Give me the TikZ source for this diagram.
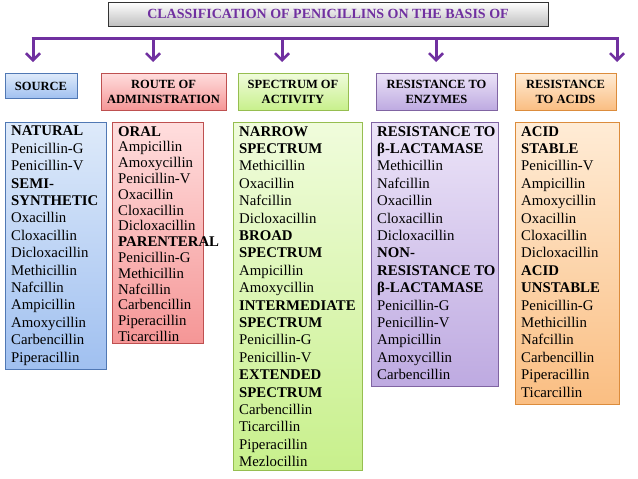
\documentclass[tikz,border=0pt]{standalone}
\usepackage{fontspec}
\setmainfont{Liberation Serif}
\usetikzlibrary{arrows.meta}
\definecolor{pur}{RGB}{112,48,160}
\definecolor{bB}{RGB}{80,120,180}\definecolor{bT}{RGB}{222,234,250}\definecolor{bD}{RGB}{160,192,240}
\definecolor{rB}{RGB}{190,80,80}\definecolor{rT}{RGB}{255,222,222}\definecolor{rD}{RGB}{245,150,150}
\definecolor{gB}{RGB}{150,190,80}\definecolor{gT}{RGB}{240,252,220}\definecolor{gD}{RGB}{200,240,140}
\definecolor{vB}{RGB}{128,100,162}\definecolor{vT}{RGB}{236,228,248}\definecolor{vD}{RGB}{190,170,225}
\definecolor{oB}{RGB}{220,140,60}\definecolor{oT}{RGB}{255,236,214}\definecolor{oD}{RGB}{250,190,130}
\tikzset{
 bx/.style 2 args={draw=#1B, top color=#1T, bottom color=#1D, line width=0.8pt},
 hd/.style={font=\fontsize{12.5}{15}\selectfont\bfseries, align=center},
 ct/.style={anchor=north west, align=left, inner sep=0pt, font=\fontsize{14.8}{17.4}\selectfont},
 ctr/.style={ct, font=\fontsize{14.8}{15.8}\selectfont},
 arr/.style={draw=pur, line width=3pt, -{Straight Barb[length=7pt,width=14pt,line width=2.5pt]}}
}
\begin{document}
\begin{tikzpicture}[x=1pt,y=-1pt]
\useasboundingbox (0,0) rectangle (638,479);
% title
\node[draw=black!80, line width=1pt, top color=white, bottom color=black!25, minimum width=440pt, minimum height=24pt, text=pur, font=\fontsize{14}{16}\selectfont\bfseries] (title) at (328,14) {CLASSIFICATION OF PENICILLINS ON THE BASIS OF};
\draw[draw=pur, line width=3pt] (31.5,38) -- (618.5,38);
\foreach \x/\n in {33/a1,153/a2,282/a3,436/a4,617/a5}{
 \coordinate (\n) at (\x,38); \coordinate (\n e) at (\x,62);
 \draw[arr] (\n) -- (\n e);}
% headers
\node[bx={b}{}, hd, minimum width=72pt, minimum height=25pt] (h1) at (41,86) {SOURCE};
\node[bx={r}{}, hd, minimum width=125pt, minimum height=37pt] (h2) at (163.5,91.5) {ROUTE OF\\ADMINISTRATION};
\node[bx={g}{}, hd, minimum width=110pt, minimum height=37pt] (h3) at (293,91.5) {SPECTRUM OF\\ACTIVITY};
\node[bx={v}{}, hd, minimum width=121pt, minimum height=37pt] (h4) at (436.5,91.5) {RESISTANCE TO\\ENZYMES};
\node[bx={o}{}, hd, minimum width=101pt, minimum height=37pt] (h5) at (565.5,91.5) {RESISTANCE\\TO ACIDS};
% content boxes
\draw[bx={b}{}] (5,122) rectangle (106,369);
\draw[bx={r}{}] (112,122) rectangle (203,343);
\draw[bx={g}{}] (233,122) rectangle (362,470);
\draw[bx={v}{}] (371,122) rectangle (498,386);
\draw[bx={o}{}] (515,122) rectangle (619,404);
\node[ct] (c1) at (11,126) {\textbf{NATURAL}\\Penicillin-G\\Penicillin-V\\\textbf{SEMI-}\\\textbf{SYNTHETIC}\\Oxacillin\\Cloxacillin\\Dicloxacillin\\Methicillin\\Nafcillin\\Ampicillin\\Amoxycillin\\Carbencillin\\Piperacillin};
\node[ctr] (c2) at (118,126) {\textbf{ORAL}\\Ampicillin\\Amoxycillin\\Penicillin-V\\Oxacillin\\Cloxacillin\\Dicloxacillin\\\textbf{PARENTERAL}\\Penicillin-G\\Methicillin\\Nafcillin\\Carbencillin\\Piperacillin\\Ticarcillin};
\node[ct] (c3) at (239,126) {\textbf{NARROW}\\\textbf{SPECTRUM}\\Methicillin\\Oxacillin\\Nafcillin\\Dicloxacillin\\\textbf{BROAD}\\\textbf{SPECTRUM}\\Ampicillin\\Amoxycillin\\\textbf{INTERMEDIATE}\\\textbf{SPECTRUM}\\Penicillin-G\\Penicillin-V\\\textbf{EXTENDED}\\\textbf{SPECTRUM}\\Carbencillin\\Ticarcillin\\Piperacillin\\Mezlocillin};
\node[ct] (c4) at (377,126) {\textbf{RESISTANCE TO}\\\textbf{β-LACTAMASE}\\Methicillin\\Nafcillin\\Oxacillin\\Cloxacillin\\Dicloxacillin\\\textbf{NON-}\\\textbf{RESISTANCE TO}\\\textbf{β-LACTAMASE}\\Penicillin-G\\Penicillin-V\\Ampicillin\\Amoxycillin\\Carbencillin};
\node[ct] (c5) at (521,126) {\textbf{ACID}\\\textbf{STABLE}\\Penicillin-V\\Ampicillin\\Amoxycillin\\Oxacillin\\Cloxacillin\\Dicloxacillin\\\textbf{ACID}\\\textbf{UNSTABLE}\\Penicillin-G\\Methicillin\\Nafcillin\\Carbencillin\\Piperacillin\\Ticarcillin};
\end{tikzpicture}
\end{document}
